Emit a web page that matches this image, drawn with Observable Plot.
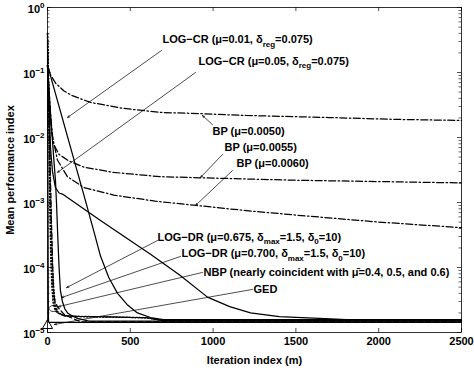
<!DOCTYPE html>
<html><head><meta charset="utf-8">
<script src="https://cdn.jsdelivr.net/npm/d3@7"></script>
<script src="https://cdn.jsdelivr.net/npm/@observablehq/plot@0.6"></script>
<style>html,body{margin:0;padding:0;background:#fff}</style>
</head><body><div id="chart"></div>
<script>
// ---- axis ticks ----
const xTicks = [0, 500, 1000, 1500, 2000, 2500];
const yMajor = [1e-5, 1e-4, 1e-3, 1e-2, 1e-1, 1];
const yMinor = [2e-5,3e-5,4e-5,5e-5,6e-5,7e-5,8e-5,9e-5,
                2e-4,3e-4,4e-4,5e-4,6e-4,7e-4,8e-4,9e-4,
                2e-3,3e-3,4e-3,5e-3,6e-3,7e-3,8e-3,9e-3,
                2e-2,3e-2,4e-2,5e-2,6e-2,7e-2,8e-2,9e-2,
                0.2,0.3,0.4,0.5,0.6,0.7,0.8,0.9];

// ---- series (iteration index m, mean performance index) ----
const bp1Iter = [0, 20, 50, 100, 150, 260, 460, 680, 920, 1200, 1700, 2100, 2500];
const bp1Val  = [0.13, 0.09, 0.068, 0.052, 0.044, 0.0346, 0.028, 0.0243, 0.0233, 0.0218, 0.0203, 0.019, 0.0183];
const bp2Iter = [0, 10, 20, 35, 70, 125, 220, 400, 680, 920, 1500, 2000, 2500];
const bp2Val  = [0.13, 0.05, 0.02, 0.008, 0.0055, 0.0044, 0.0035, 0.0029, 0.0025, 0.0024, 0.0022, 0.0021, 0.002];
const bp3Iter = [0, 10, 25, 60, 120, 220, 400, 650, 900, 1200, 1500, 2000, 2500];
const bp3Val  = [0.13, 0.04, 0.012, 0.0045, 0.0025, 0.0017, 0.0013, 0.00105, 0.0009, 0.00075, 0.00064, 0.0005, 0.00041];
const lcr1Iter = [0, 229, 280, 320, 370, 423, 480, 543, 622, 700, 2500];
const lcr1Val  = [0.13, 0.00107, 3.6e-4, 1.5e-4, 7e-5, 4e-5, 2.7e-5, 2.0e-5, 1.7e-5, 1.58e-5, 1.58e-5];
const lcr2Iter = [0, 10, 18, 30, 48, 70, 90, 320, 622, 800, 966, 1100, 1226, 1400, 1709, 1900, 2500];
const lcr2Val  = [0.13, 0.03, 0.007, 0.003, 0.0017, 0.0014, 0.00135, 5.3e-4, 1.6e-4, 7.6e-5, 3.5e-5, 2.5e-5, 2.0e-5, 1.75e-5, 1.62e-5, 1.54e-5, 1.54e-5];
const ldr1Iter = [0, 10, 20, 30, 40, 48, 55, 62, 70, 78, 90, 105, 121, 150, 181, 250, 2500];
const ldr1Val  = [0.13, 0.05, 0.02, 0.009, 0.004, 0.0022, 9e-4, 3e-4, 1e-4, 4.4e-5, 3e-5, 2.3e-5, 2e-5, 1.8e-5, 1.65e-5, 1.5e-5, 1.5e-5];
const ldr2Iter = [0, 6, 12, 18, 24, 30, 36, 45, 60, 78, 100, 139, 200, 2500];
const ldr2Val  = [0.13, 0.035, 0.009, 0.0022, 5e-4, 1.3e-4, 4.4e-5, 3e-5, 2.5e-5, 2.2e-5, 1.9e-5, 1.7e-5, 1.46e-5, 1.46e-5];
const nbp1Iter = [0, 2, 4, 6, 8, 10, 12, 16, 20, 26, 34, 45, 60, 100, 200, 400, 600, 700, 2500];
const nbp1Val  = [0.4, 0.2, 0.1, 0.04, 0.015, 0.005, 0.0016, 4e-4, 1.2e-4, 5e-5, 2.8e-5, 2.2e-5, 2e-5, 1.8e-5, 1.75e-5, 1.72e-5, 1.68e-5, 1.52e-5, 1.52e-5];
const nbp2Iter = [0, 3, 5, 8, 10, 13, 15, 20, 25, 32, 40, 50, 65, 100, 200, 400, 600, 700, 2500];
const nbp2Val  = [0.4, 0.2, 0.1, 0.04, 0.015, 0.005, 0.0016, 4e-4, 1.2e-4, 5e-5, 2.8e-5, 2.2e-5, 2e-5, 1.8e-5, 1.76e-5, 1.73e-5, 1.68e-5, 1.52e-5, 1.52e-5];
const nbp3Iter = [0, 4, 6, 9, 12, 15, 18, 24, 30, 38, 46, 56, 70, 100, 200, 400, 600, 700, 2500];
const nbp3Val  = [0.4, 0.2, 0.1, 0.04, 0.015, 0.005, 0.0016, 4e-4, 1.2e-4, 5e-5, 2.8e-5, 2.2e-5, 2e-5, 1.82e-5, 1.77e-5, 1.74e-5, 1.69e-5, 1.52e-5, 1.52e-5];
const gedIter = [0, 1, 2, 3, 4, 5, 6, 8, 2500];
const gedVal  = [0.4, 0.06, 0.006, 6e-4, 8e-5, 2.5e-5, 1.5e-5, 1.43e-5, 1.43e-5];
const gedMarkIter = [0];
const gedMarkVal  = [1.28e-5];
const nbpMarkIter = [36];
const nbpMarkVal  = [2.34e-5];

// ---- annotations (label text; label anchor; arrow tail; arrow head, in data units) ----
const annLabels = [
  "LOG−CR (μ=0.01, δ_{reg}=0.075)",
  "LOG−CR (μ=0.05, δ_{reg}=0.075)",
  "BP (μ=0.0050)",
  "BP (μ=0.0055)",
  "BP (μ=0.0060)",
  "LOG−DR (μ=0.675, δ_{max}=1.5, δ_{0}=10)",
  "LOG−DR (μ=0.700, δ_{max}=1.5, δ_{0}=10)",
  "NBP (nearly coincident with μ\u0304=0.4, 0.5, and 0.6)",
  "GED"
];
const annTextIter = [694, 912, 996, 1069, 1141, 664, 809, 942, 1244];
const annTextVal  = [0.322, 0.148, 0.0124, 0.00702, 0.00398, 2.9e-4, 1.64e-4, 8.4e-5, 4.6e-5];
const annTailIter = [688, 894, 996, 1057, 1117, 664, 803, 936, 1238];
const annTailVal  = [0.218, 0.1, 0.0158, 0.00548, 0.0031, 2.6e-4, 1.48e-4, 8.4e-5, 4.6e-5];
const annHeadIter = [121, 60, 936, 924, 894, 115, 85, 66, 42];
const annHeadVal  = [0.0203, 0.0029, 0.0218, 0.00243, 0.0009, 4.9e-5, 3.45e-5, 2.5e-5, 1.33e-5];

// ---- build tables ----
const seriesDefs = [
  {key: "bp1", it: bp1Iter, v: bp1Val},
  {key: "bp2", it: bp2Iter, v: bp2Val},
  {key: "bp3", it: bp3Iter, v: bp3Val},
  {key: "lcr1", it: lcr1Iter, v: lcr1Val},
  {key: "lcr2", it: lcr2Iter, v: lcr2Val},
  {key: "ldr1", it: ldr1Iter, v: ldr1Val},
  {key: "ldr2", it: ldr2Iter, v: ldr2Val},
  {key: "nbp1", it: nbp1Iter, v: nbp1Val},
  {key: "nbp2", it: nbp2Iter, v: nbp2Val},
  {key: "nbp3", it: nbp3Iter, v: nbp3Val},
  {key: "ged", it: gedIter, v: gedVal}
];
const dashFor = {
  bp1: "7,2.5,1.5,2.5", bp2: "7,2.5,1.5,2.5", bp3: "7,2.5,1.5,2.5",
  lcr1: null, lcr2: null, ldr1: null, ldr2: "5,3",
  nbp1: "1.2,2", nbp2: "1.2,2", nbp3: "1.2,2", ged: null
};
const ann = annLabels.map((label, i) => ({
  label, tx: annTextIter[i], ty: annTextVal[i],
  x1: annTailIter[i], y1: annTailVal[i], x2: annHeadIter[i], y2: annHeadVal[i]
}));

const W = 474, H = 391, ML = 47, MR = 13, MT = 7, MB = 59;
const fw = W - ML - MR, fh = H - MT - MB;

const ellipseSymbol = {draw(ctx) {
  const rx = 4.5, ry = 3, k = 0.5523;
  ctx.moveTo(rx, 0);
  ctx.bezierCurveTo(rx, ry * k, rx * k, ry, 0, ry);
  ctx.bezierCurveTo(-rx * k, ry, -rx, ry * k, -rx, 0);
  ctx.bezierCurveTo(-rx, -ry * k, -rx * k, -ry, 0, -ry);
  ctx.bezierCurveTo(rx * k, -ry, rx, -ry * k, rx, 0);
  ctx.closePath();
}};

const lineMarks = seriesDefs.map(s => Plot.line(
  s.it.map((m, i) => ({m, v: s.v[i]})),
  {x: "m", y: "v", stroke: "#000", strokeWidth: 1.25, strokeDasharray: dashFor[s.key] || undefined}
));

const supFmt = d => `10^{${String(Math.round(Math.log10(d))).replace("-", "−")}}`;

const chart = Plot.plot({
  width: W, height: H, marginLeft: ML, marginRight: MR, marginTop: MT, marginBottom: MB,
  style: {fontFamily: "'Liberation Sans', Arial, Helvetica, sans-serif", fontSize: "11px", fontWeight: "bold", background: "#fff", color: "#000"},
  x: {domain: [0, 2500]},
  y: {type: "log", domain: [1e-5, 1]},
  marks: [
    ...lineMarks,
    Plot.tickY(yMajor, {y: d => d, insetRight: fw - 4, stroke: "#000", strokeWidth: 0.7}),
    Plot.tickY(yMajor, {y: d => d, insetLeft: fw - 4, stroke: "#000", strokeWidth: 0.7}),
    Plot.tickY(yMinor, {y: d => d, insetRight: fw - 2.5, stroke: "#000", strokeWidth: 0.6}),
    Plot.tickY(yMinor, {y: d => d, insetLeft: fw - 2.5, stroke: "#000", strokeWidth: 0.6}),
    Plot.tickX(xTicks, {x: d => d, insetTop: fh - 4, stroke: "#000", strokeWidth: 0.7}),
    Plot.tickX(xTicks, {x: d => d, insetBottom: fh - 4, stroke: "#000", strokeWidth: 0.7}),
    Plot.frame({stroke: "#000", strokeWidth: 0.8}),
    Plot.axisX({ticks: xTicks, tickSize: 0, tickPadding: 5, tickFormat: d => String(d),
      label: "Iteration index (m)", labelAnchor: "center", labelOffset: 31, labelArrow: "none"}),
    Plot.axisY({ticks: yMajor, tickSize: 0, tickPadding: 3, tickFormat: supFmt, dy: 2,
      label: "Mean performance index", labelAnchor: "center", labelOffset: 41, labelArrow: "none"}),
    Plot.arrow(ann, {x1: "x1", y1: "y1", x2: "x2", y2: "y2", stroke: "#000", strokeWidth: 0.7, headLength: 5, headAngle: 40}),
    Plot.text(ann, {x: "tx", y: "ty", text: "label", textAnchor: "start", fontSize: 11, fontWeight: "bold", fill: "#000"}),
    Plot.dot(gedMarkIter.map((m, i) => ({m, v: gedMarkVal[i]})), {x: "m", y: "v", symbol: "triangle", r: 3.8, stroke: "#000", fill: "none", strokeWidth: 1}),
    Plot.dot(nbpMarkIter.map((m, i) => ({m, v: nbpMarkVal[i]})), {x: "m", y: "v", symbol: ellipseSymbol, r: 3, stroke: "#000", fill: "none", strokeWidth: 0.8})
  ]
});

// rich text: _{sub} and ^{sup}
const svgNS = "http://www.w3.org/2000/svg";
chart.querySelectorAll("text").forEach(t => {
  const s = t.textContent;
  if (!/[_^]\{/.test(s)) return;
  while (t.firstChild) t.removeChild(t.firstChild);
  const re = /([_^])\{([^}]*)\}/g;
  let last = 0, cur = 0, m;
  const add = (str, tgt, small) => {
    if (!str) return;
    const ts = document.createElementNS(svgNS, "tspan");
    ts.textContent = str;
    const dy = tgt - cur;
    if (dy) ts.setAttribute("dy", dy);
    cur = tgt;
    if (small) ts.setAttribute("font-size", small);
    t.appendChild(ts);
  };
  while ((m = re.exec(s))) {
    add(s.slice(last, m.index), 0);
    add(m[2], m[1] === "_" ? 3.5 : -5, 8);
    last = re.lastIndex;
  }
  add(s.slice(last), 0);
});

document.getElementById("chart").appendChild(chart);
</script>
</body></html>
